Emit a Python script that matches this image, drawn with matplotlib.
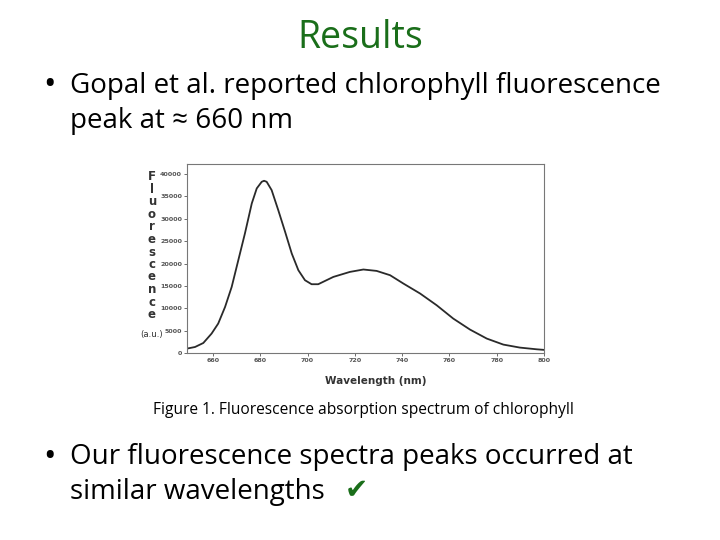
import matplotlib
matplotlib.use("Agg")
import matplotlib.pyplot as plt

# Data
wavelength = [649.0, 652.4, 655.9, 659.4, 662.2, 665.1, 667.9, 670.7, 673.5, 676.4,
              678.5, 680.6, 681.6, 682.7, 684.8, 687.6, 690.5, 693.3, 696.1, 698.9,
              701.7, 704.5, 710.9, 717.9, 723.6, 729.2, 734.9, 740.5, 747.6, 754.6,
              761.6, 768.7, 775.8, 782.8, 789.8, 796.9, 800.0]
fluorescence = [985, 1343, 2238, 4342, 6580, 10295, 14771, 20746, 26722, 33436,
                36793, 38270, 38500, 38270, 36413, 31936, 27080, 22246, 18509, 16271,
                15375, 15375, 17009, 18128, 18665, 18352, 17389, 15532, 13294, 10675,
                7699, 5237, 3223, 1880, 1209, 828, 700]
x_ticks = [660, 680, 700, 720, 740, 760, 780, 800]
y_ticks = [0, 5000, 10000, 15000, 20000, 25000, 30000, 35000, 40000]

title = "Results"
bullet1 = ["Gopal et al. reported chlorophyll fluorescence", "peak at \u2248 660 nm"]
caption = "Figure 1. Fluorescence absorption spectrum of chlorophyll"
bullet2 = ["Our fluorescence spectra peaks occurred at", "similar wavelengths"]

plt.rcParams['font.family'] = ['Open Sans', 'DejaVu Sans']
fig = plt.figure(figsize=(7.2, 5.4), dpi=100)
fig.patch.set_facecolor('white')

green = '#1a6e1a'
fig.text(0.5, 1 - 38/540, title, ha='center', va='center', fontsize=27, color=green)

body_fs = 20
fig.text(43/720, 1 - 86/540, "\u2022", ha='left', va='center', fontsize=24)
fig.text(70/720, 1 - 86/540, bullet1[0], ha='left', va='center', fontsize=body_fs)
fig.text(70/720, 1 - 121/540, bullet1[1], ha='left', va='center', fontsize=body_fs)

fig.text(363/720, 1 - 410/540, caption, ha='center', va='center', fontsize=11.2)

fig.text(43/720, 1 - 457/540, "\u2022", ha='left', va='center', fontsize=24)
fig.text(70/720, 1 - 457/540, bullet2[0], ha='left', va='center', fontsize=body_fs)
fig.text(70/720, 1 - 492/540, bullet2[1], ha='left', va='center', fontsize=body_fs)
fig.text(345/720, 1 - 490/540, "\u2714", ha='left', va='center', fontsize=20,
         color=green, family=['DejaVu Sans'])

ax = fig.add_axes([187/720, 1 - 353/540, (544 - 187)/720, (353 - 164)/540])
ax.plot(wavelength, fluorescence, color='#2a2a2a', lw=1.3)
ax.set_xlim(649, 800)
ax.set_ylim(0, 42250)
ax.set_xticks(x_ticks)
ax.set_yticks(y_ticks)
ax.tick_params(labelsize=4.6, length=2, width=0.6, colors='#555555', pad=1.5)
for lab in ax.get_xticklabels() + ax.get_yticklabels():
    lab.set_fontweight('bold')
    lab.set_family(['DejaVu Sans'])
for s in ax.spines.values():
    s.set_color('#777777')
    s.set_linewidth(0.8)

fig.text(376/720, 1 - 381/540, "Wavelength (nm)", ha='center', va='center',
         fontsize=7.5, color='#333333', fontweight='bold', family=['DejaVu Sans'])

letters = "Fluorescence"
top_y = 177
for i, ch in enumerate(letters):
    fig.text(152/720, 1 - (top_y + i * 12.5)/540, ch, ha='center', va='center',
             fontsize=8.5, color='#333333', fontweight='bold', family=['DejaVu Sans'])
fig.text(152/720, 1 - 334/540, "(a.u.)", ha='center', va='center', fontsize=6.2,
         color='#333333', family=['DejaVu Sans'])

fig.savefig("out.png", dpi=100, facecolor='white')
